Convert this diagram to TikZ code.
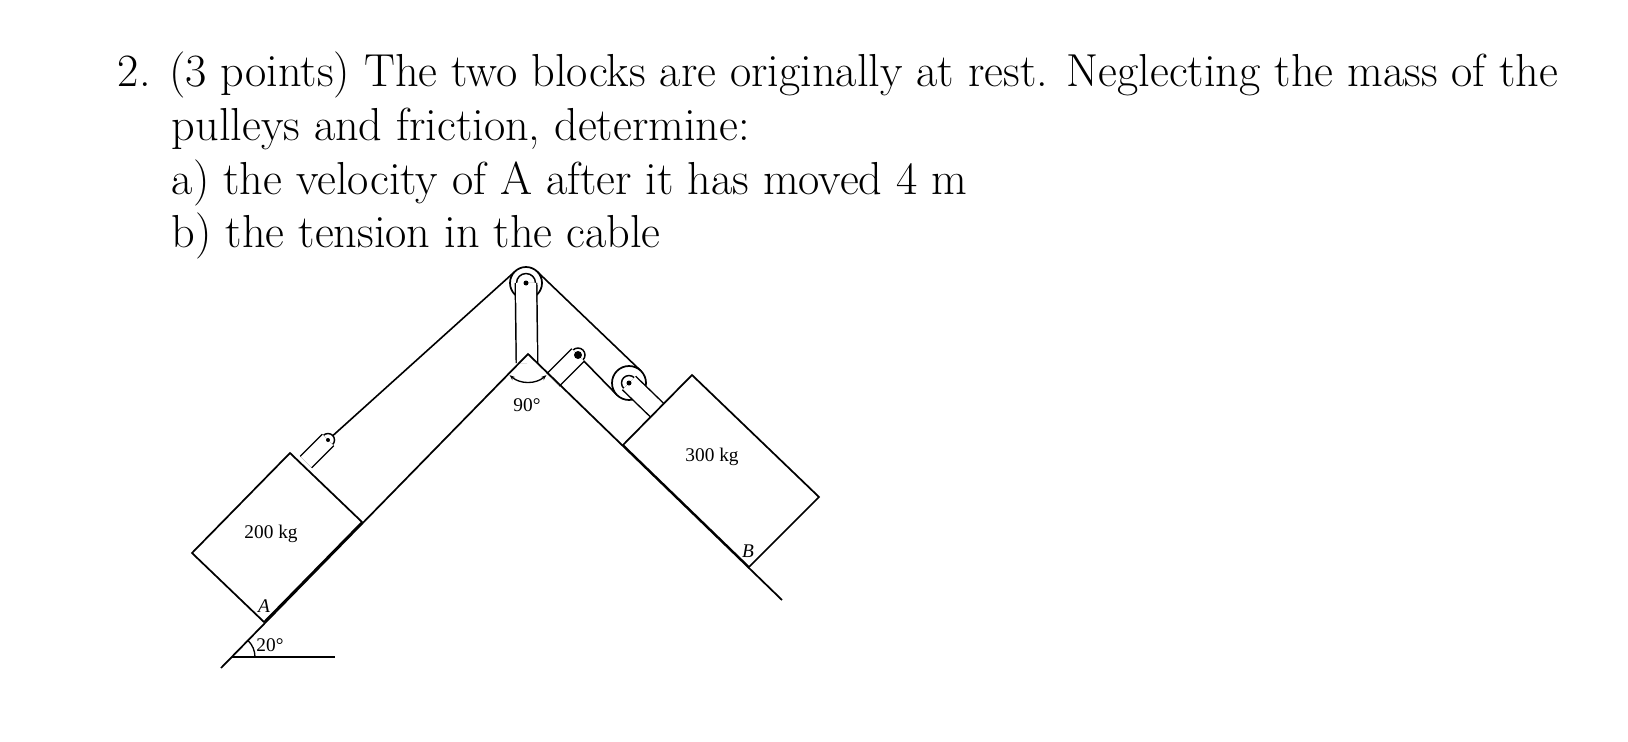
\documentclass[tikz,border=0pt]{standalone}
\usepackage{fontspec}
\newfontfamily\lab{Liberation Serif}
\usetikzlibrary{arrows.meta}
\begin{document}
\begin{tikzpicture}[x=0.75pt,y=0.75pt,line width=1.3pt,
  title/.style={anchor=base west,inner sep=0pt,font=\fontsize{34.7}{40}\selectfont},
  lbl/.style={inner sep=0pt,font=\lab\fontsize{14.5}{16}\selectfont},
  rod/.style={double=white,double distance=#1,line cap=butt,line width=1.1pt},
  blk/.style={draw,fill=white,line width=1.3pt}]
\useasboundingbox (0,0) rectangle (1628,-742);
% text
\node[title] (t1) at (117,-87) {2. (3 points) The two blocks are originally at rest. Neglecting the mass of the};
\node[title] (t2) at (171,-141) {pulleys and friction, determine:};
\node[title] (t3) at (171,-194) {a) the velocity of A after it has moved 4 m};
\node[title] (t4) at (171,-247) {b) the tension in the cable};
% key points
\coordinate (gl) at (221,-668);
\coordinate (apex) at (528,-354);
\coordinate (gr) at (782,-600);
\coordinate (v20) at (232,-657);
\coordinate (gend) at (335,-657);
\coordinate (P1) at (526,-283);
\coordinate (P2) at (629,-383);
\coordinate (pin) at (578,-355);
\coordinate (pinbase) at (553,-380);
\coordinate (pinA) at (328,-440);
\coordinate (pinAbase) at (306,-462);
% cables
\draw[line width=1.2pt] (pinA) -- (514.6,-271.8);
\draw[line width=1.2pt] (537,-271.4) -- (640.7,-370.7);
\draw[line width=1.2pt] (pin) -- (617.3,-395.3);
% rods
\draw[fill=white,line width=1.1pt] (pinA) circle (6.5);
\draw[rod=11pt] (pinAbase) -- (pinA);
\fill (pinA) circle (2);
\draw[fill=white,line width=1.1pt] (pin) circle (7);
\draw[rod=12pt] (pinbase) -- (pin);
\fill (pin) circle (4);
% top pulley
\draw[fill=white,line width=1.3pt] (P1) circle (16);
\draw[fill=white,line width=1.1pt] (P1) circle (9.5);
\draw[rod=15pt] (527,-363) -- (P1);
\fill (P1) circle (2.5);
% second pulley
\draw[fill=white,line width=1.3pt] (P2) circle (17);
\draw[fill=white,line width=1.1pt] (P2) circle (7.5);
\draw[rod=13pt] (660,-413) -- (P2);
\fill (P2) circle (2.5);
% inclines
\draw (gl) -- (apex) -- (gr);
\draw (v20) -- (gend);
\draw[line width=1pt] (v20) ++(23,0) arc (0:46:23);
\node[lbl] (a20) at (270,-645) {20°};
% 90 deg
\draw[line width=1pt,{Stealth[length=4pt,width=3pt]}-{Stealth[length=4pt,width=3pt]}] (apex) ++(229:28) arc (229:311:28);
\node[lbl] (a90) at (527,-405) {90°};
% blocks
\draw[blk] (264,-622) -- (362,-522) -- (290,-453) -- (192,-553) -- cycle;
\draw[blk] (623,-445) -- (692,-375) -- (819,-497) -- (749,-567) -- cycle;
\node[lbl] (mA) at (271,-534) {200 kg};
\node[lbl] (mB) at (712,-457) {300 kg};
\node[lbl,font=\lab\itshape\fontsize{14.5}{16}\selectfont] (A) at (264,-606) {A};
\node[lbl,font=\lab\itshape\fontsize{14.5}{16}\selectfont] (B) at (748,-551) {B};
\end{tikzpicture}
\end{document}
